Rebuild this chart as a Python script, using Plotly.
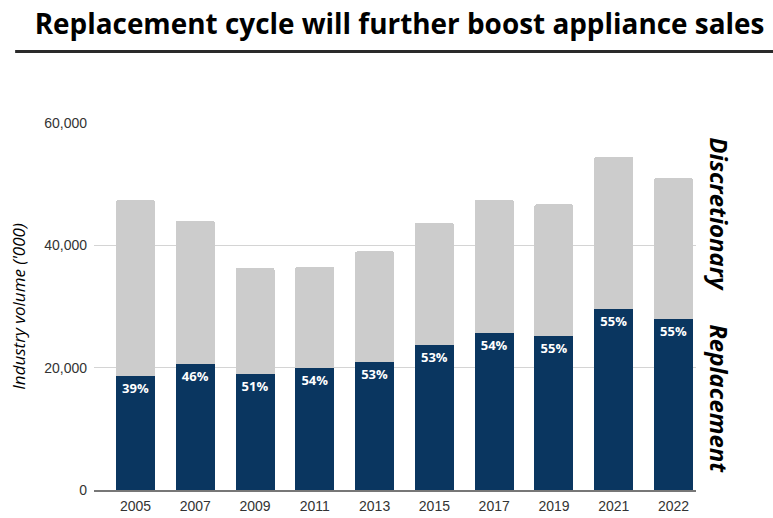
import plotly.graph_objects as go

years = ["2005", "2007", "2009", "2011", "2013", "2015", "2017", "2019", "2021", "2022"]
replacement = [18640, 20600, 18890, 19970, 20950, 23670, 25630, 25250, 29590, 28000]
total = [47410, 44030, 36300, 36520, 39020, 43700, 47460, 46690, 54490, 50960]
discretionary = [t - r for t, r in zip(total, replacement)]
share_labels = ["39%", "46%", "51%", "54%", "53%", "53%", "54%", "55%", "55%", "55%"]

NAVY = "#0a3660"
GRAY = "#cccccc"

fig = go.Figure()
fig.add_trace(go.Bar(
    x=years, y=replacement, name="Replacement", marker=dict(color=NAVY, line=dict(width=0)),
    text=share_labels, textposition="inside", insidetextanchor="end", textangle=0,
    textfont=dict(family="Open Sans", size=13, color="white", weight="bold"),
    constraintext="none", hoverinfo="skip",
))
fig.add_trace(go.Bar(
    x=years, y=discretionary, name="Discretionary", marker=dict(color=GRAY, line=dict(width=0)),
    hoverinfo="skip",
))

fig.update_layout(
    width=773, height=518,
    barmode="stack", bargap=0.348, barcornerradius=2,
    showlegend=False,
    paper_bgcolor="white", plot_bgcolor="white",
    margin=dict(l=94, r=77, t=122.5, b=28, autoexpand=False),
    font=dict(family="Liberation Sans, Arial", color="#333333"),
    title=dict(
        text="<b>Replacement cycle will further boost appliance sales</b>",
        font=dict(family="Open Sans", size=27.9, color="#000000"),
        x=0.5075, xanchor="center", y=0.954, yanchor="middle", xref="paper",
    ),
)
fig.update_xaxes(
    range=[-0.694, 9.376],
    showline=True, linecolor="#777777", linewidth=2, showgrid=False, automargin=False,
    tickfont=dict(size=14, color="#333333"), ticks="", ticklabelstandoff=2,
)
fig.update_yaxes(
    range=[0, 60000], dtick=20000, tickformat=",", showgrid=True, gridcolor="#d4d4d4",
    gridwidth=1, zeroline=False, showline=False, ticks="", automargin=False,
    tickfont=dict(size=14, color="#333333"), ticklabelstandoff=6,
    title=dict(text="<i>Industry volume ('000)</i>",
               font=dict(family="Open Sans", size=17, color="#000000"), standoff=14),
)

# title underline
fig.add_shape(type="line", xref="paper", yref="paper",
              x0=-0.131, x1=1.13, y0=1.1946, y1=1.1946,
              line=dict(color="#2a2a2a", width=3))

fig.add_annotation(text="<b><i>Discretionary</i></b>", xref="paper", yref="paper",
                   x=1.04, y=0.751, xanchor="center", yanchor="middle",
                   textangle=90, showarrow=False,
                   font=dict(family="Open Sans", size=24, color="#000000"))
fig.add_annotation(text="<b><i>Replacement</i></b>", xref="paper", yref="paper",
                   x=1.04, y=0.25, xanchor="center", yanchor="middle",
                   textangle=90, showarrow=False,
                   font=dict(family="Open Sans", size=24, color="#000000"))

fig.write_html("out.html", config={"displayModeBar": False},
               post_script="document.body.style.margin='0';")
